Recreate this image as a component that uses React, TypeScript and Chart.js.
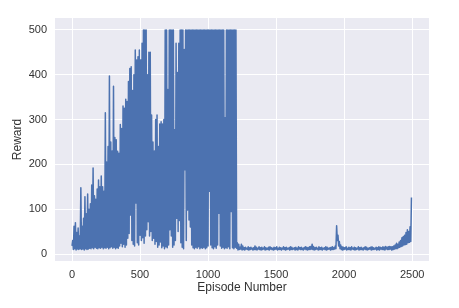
import React, { useEffect, useRef } from "react";
import { Chart, registerables } from "chart.js";

Chart.register(...registerables);

// Each block covers 10 episodes: a trough (at block start) and a peak (mid-block)
const BLOCK_SIZE = 10;

const peakRewards: number[] = [
  30, 62, 70, 48, 58, 40, 148, 62, 80, 128,
  90, 134, 100, 112, 154, 192, 130, 122, 145, 165,
  150, 174, 150, 140, 315, 205, 240, 397, 250, 230,
  374, 260, 255, 229, 225, 289, 280, 330, 325, 345,
  340, 385, 414, 418, 365, 400, 455, 433, 440, 455,
  433, 470, 500, 500, 500, 400, 450, 450, 310, 250,
  230, 300, 310, 240, 290, 295, 290, 300, 500, 500,
  367, 500, 500, 500, 500, 277, 470, 405, 470, 500,
  500, 500, 456, 500, 500, 500, 500, 500, 500, 500,
  500, 500, 500, 500, 500, 500, 500, 500, 500, 500,
  500, 500, 500, 500, 500, 500, 500, 500, 500, 500,
  500, 500, 304, 500, 500, 500, 500, 500, 500, 500,
  500, 25, 22, 15, 22, 18, 14, 15, 13, 16,
  14, 15, 13, 14, 18, 15, 13, 16, 14, 15,
  13, 16, 14, 13, 15, 16, 14, 13, 15, 14,
  16, 13, 15, 14, 13, 16, 14, 15, 13, 14,
  16, 15, 13, 14, 15, 13, 16, 14, 15, 13,
  14, 16, 15, 14, 16, 17, 22, 17, 14, 15,
  13, 16, 14, 15, 13, 14, 16, 15, 13, 14,
  15, 16, 14, 18, 63, 42, 28, 20, 16, 15,
  14, 16, 13, 15, 14, 16, 13, 15, 14, 13,
  16, 14, 15, 13, 14, 16, 15, 13, 14, 15,
  16, 14, 13, 15, 14, 16, 15, 14, 16, 15,
  17, 15, 16, 17, 16, 16, 18, 20, 24, 22,
  27, 30, 36, 39, 42, 48, 54, 50, 61, 126,
];

const troughRewards: number[] = [
  18, 10, 12, 9, 11, 10, 12, 10, 11, 9,
  12, 10, 11, 13, 12, 14, 12, 15, 13, 12,
  14, 13, 15, 12, 14, 13, 15, 12, 14, 16,
  13, 15, 12, 14, 13, 18, 24, 16, 22, 15,
  20, 35, 46, 87, 30, 22, 18, 114, 25, 20,
  42, 30, 36, 24, 40, 54, 72, 40, 50, 30,
  35, 22, 28, 15, 20, 27, 14, 18, 12, 16,
  14, 20, 54, 40, 15, 20, 30, 80, 50, 75,
  25, 15, 12, 188, 30, 98, 76, 60, 20, 14,
  12, 15, 13, 16, 12, 14, 13, 15, 12, 14,
  18, 140, 20, 14, 12, 16, 13, 20, 91, 18,
  13, 15, 12, 14, 13, 16, 12, 95, 14, 12,
  15, 13, 9, 10, 11, 9, 10, 9, 11, 10,
  9, 10, 11, 9, 10, 10, 9, 11, 10, 9,
  10, 11, 9, 10, 10, 9, 11, 10, 9, 10,
  11, 9, 10, 10, 9, 11, 10, 9, 10, 11,
  9, 10, 10, 11, 9, 10, 9, 11, 10, 10,
  9, 11, 10, 9, 10, 10, 11, 10, 9, 10,
  11, 9, 10, 10, 9, 11, 10, 9, 10, 11,
  9, 10, 10, 11, 12, 30, 18, 12, 10, 9,
  10, 11, 9, 10, 10, 9, 11, 10, 9, 10,
  11, 9, 10, 10, 9, 11, 10, 9, 10, 11,
  9, 10, 10, 11, 9, 10, 9, 11, 10, 10,
  9, 11, 10, 10, 11, 9, 10, 11, 12, 12,
  14, 15, 17, 18, 20, 21, 22, 25, 26, 28,
];

const xTickValues = [0, 500, 1000, 1500, 2000, 2500];
const yTickValues = [0, 100, 200, 300, 400, 500];
const xAxisTitle = "Episode Number";
const yAxisTitle = "Reward";

const FONT = "'Liberation Sans', Arial, sans-serif";
const TICK_COLOR = "#333333";

export default function App() {
  const canvasRef = useRef<HTMLCanvasElement | null>(null);

  useEffect(() => {
    const points: { x: number; y: number }[] = [];
    troughRewards.forEach((t, i) => {
      points.push({ x: i * BLOCK_SIZE, y: t });
      points.push({ x: i * BLOCK_SIZE + BLOCK_SIZE / 2, y: peakRewards[i] });
    });

    const bgPlugin = {
      id: "plotBg",
      beforeDraw(chart: any) {
        const { ctx, chartArea } = chart;
        if (!chartArea) return;
        ctx.save();
        ctx.fillStyle = "#EAEAF2";
        ctx.fillRect(chartArea.left, chartArea.top, chartArea.right - chartArea.left, chartArea.bottom - chartArea.top);
        ctx.restore();
      },
    };

    const chart = new Chart(canvasRef.current as HTMLCanvasElement, {
      type: "line",
      data: {
        datasets: [
          {
            data: points,
            borderColor: "#4C72B0",
            borderWidth: 1.5,
            borderJoinStyle: "round",
            // non-empty dash (no gaps) forces the full-path renderer instead of pixel-merging fast path
            borderDash: [100000, 0],
            pointRadius: 0,
            tension: 0,
            fill: false,
          },
        ],
      },
      options: {
        animation: false,
        responsive: false,
        devicePixelRatio: 1,
        parsing: false as any,
        normalized: true,
        layout: { padding: { left: 0, top: 18, right: 30, bottom: 0 } },
        plugins: { legend: { display: false }, tooltip: { enabled: false } },
        scales: {
          x: {
            type: "linear",
            min: -125,
            max: 2624,
            border: { display: false },
            grid: { color: "#FFFFFF", lineWidth: 1, drawTicks: false },
            ticks: {
              padding: 7,
              color: TICK_COLOR,
              font: { family: FONT, size: 11 },
              maxRotation: 0,
              callback: (v: any) => String(v),
            },
            afterBuildTicks: (scale: any) => {
              scale.ticks = xTickValues.map((v) => ({ value: v }));
            },
            afterFit: (scale: any) => {
              scale.height = 47;
            },
            title: {
              display: true,
              text: xAxisTitle,
              color: TICK_COLOR,
              font: { family: FONT, size: 12 },
              padding: { top: 0, bottom: 13 },
            },
          },
          y: {
            type: "linear",
            min: -15.6,
            max: 526.5,
            border: { display: false },
            grid: { color: "#FFFFFF", lineWidth: 1, drawTicks: false },
            ticks: {
              padding: 8,
              color: TICK_COLOR,
              font: { family: FONT, size: 11 },
              callback: (v: any) => String(v),
            },
            afterBuildTicks: (scale: any) => {
              scale.ticks = yTickValues.map((v) => ({ value: v }));
            },
            afterFit: (scale: any) => {
              scale.width = 55;
            },
            title: {
              display: true,
              text: yAxisTitle,
              color: TICK_COLOR,
              font: { family: FONT, size: 12 },
              padding: { top: 10, bottom: 0 },
            },
          },
        },
      },
      plugins: [bgPlugin],
    });

    return () => chart.destroy();
  }, []);

  return (
    <div style={{ position: "fixed", left: 0, top: 0, width: 459, height: 308, background: "#FFFFFF" }}>
      <canvas ref={canvasRef} width={459} height={308} style={{ display: "block" }} />
    </div>
  );
}
